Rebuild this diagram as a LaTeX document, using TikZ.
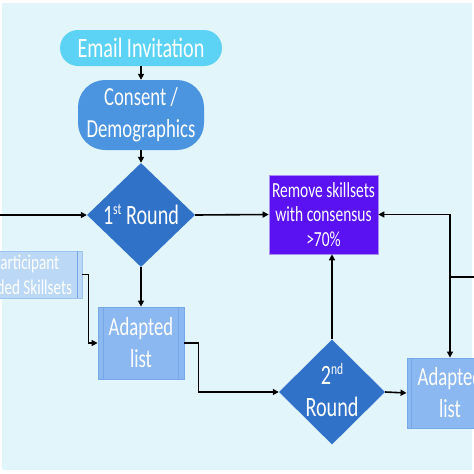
\documentclass[tikz,border=0pt]{standalone}
\usepackage{fontspec}
\setmainfont{Carlito}[FakeStretch=0.72]
\usetikzlibrary{shapes.geometric,arrows.meta}
\definecolor{bgc}{HTML}{E2F5FB}
\definecolor{emailc}{HTML}{5CD3F4}
\definecolor{consentc}{HTML}{4A94E0}
\definecolor{roundc}{HTML}{3072C8}
\definecolor{removec}{HTML}{5A12F2}
\definecolor{removeb}{HTML}{A88CF0}
\definecolor{alc}{HTML}{8BB8F0}
\definecolor{alb}{HTML}{76A8E8}
\definecolor{partc}{HTML}{BBD8F6}
\definecolor{partb}{HTML}{9FC4F0}
\newcommand{\mysup}[1]{\raisebox{10pt}[0pt][0pt]{\fontsize{16}{16}\selectfont #1}}
\begin{document}
\begin{tikzpicture}[x=1pt,y=-1pt,
  arr/.style={line width=1.6pt,-{Triangle[length=6pt,width=6pt]}},
  ln/.style={line width=1.6pt},
  pill/.style={fill=#1,text=white,inner sep=0pt,align=center},
  dia/.style={diamond,fill=roundc,text=white,inner sep=0pt,align=center,font=\fontsize{28}{32}\selectfont},
  listbox/.style={rectangle,fill=alc,draw=alb,line width=0.8pt,text=white,inner sep=0pt,align=center,font=\fontsize{26}{32}\selectfont},
  innerline/.style={draw=alb,line width=0.8pt}
]
\useasboundingbox (0,0) rectangle (474,474);
\clip (0,0) rectangle (474,474);
\fill[white] (0,0) rectangle (474,474);
\fill[bgc] (2,3) rectangle (472,470);

\node[pill=emailc,rounded corners=18pt,minimum width=162pt,minimum height=36pt,font=\fontsize{28}{30}\selectfont] (email) at (141,48) {Email Invitation};
\node[pill=consentc,rounded corners=27pt,minimum width=126pt,minimum height=70pt,font=\fontsize{26}{32}\selectfont] (consent) at (141,115) {Consent /\\Demographics};
\node[dia,minimum width=108pt,minimum height=104pt] (r1) at (141,215) {1\mysup{st} Round};
\node[rectangle,fill=removec,draw=removeb,line width=0.6pt,text=white,inner sep=0pt,align=center,minimum width=109pt,minimum height=79pt,font=\fontsize{21.5}{24.5}\selectfont] (remove) at (323.5,214.5) {Remove skillsets\\with consensus\\>70\%};
\node[listbox,minimum width=86pt,minimum height=72pt] (al1) at (141,343) {Adapted\\list};
\node[dia,minimum width=106pt,minimum height=105pt] (r2) at (332,392) {2\mysup{nd}\\Round};
\node[listbox,minimum width=86pt,minimum height=70pt] (al2) at (450,393) {Adapted\\list};
\node[rectangle,fill=partc,draw=partb,line width=0.8pt,text=white,inner sep=0pt,align=center,minimum width=112pt,minimum height=47pt,font=\fontsize{21}{25}\selectfont] (part) at (26,274.5) {Participant\\Added Skillsets};

\draw[innerline] ([xshift=6pt]al1.north west) -- ([xshift=6pt]al1.south west);
\draw[innerline] ([xshift=-6pt]al1.north east) -- ([xshift=-6pt]al1.south east);
\draw[innerline] ([xshift=5pt]al2.north west) -- ([xshift=5pt]al2.south west);
\draw[innerline] ([xshift=-5pt]part.north east) -- ([xshift=-5pt]part.south east);

\coordinate (w) at (-5,215);
\coordinate (e) at (480,277);
\coordinate (j) at (450,277);

\draw[arr] (email) -- (consent);
\draw[arr] (consent) -- (r1);
\draw[arr] (w) -- (r1.west);
\draw[arr] (r1.east) -- (remove.west);
\draw[arr] (r1.south) -- (al1.north);
\draw[arr] (part.east) -- ++(6,0) |- (al1.west);
\draw[arr] (al1.east) -- ++(14,0) |- (r2.west);
\draw[arr] (r2.north) -- (r2.north |- remove.south);
\draw[arr] (r2.east) -- (al2.west);
\draw[ln] (e) -- (j);
\draw[arr] (j) |- (remove.east);
\draw[arr] (j) -- (al2.north);
\end{tikzpicture}
\end{document}
